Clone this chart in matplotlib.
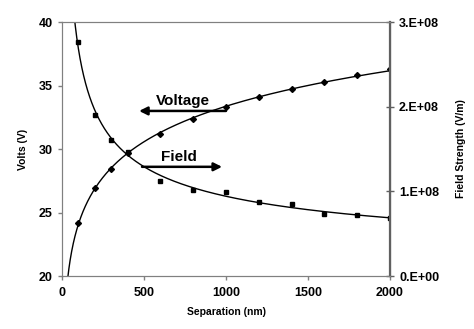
import numpy as np
import matplotlib
matplotlib.use("Agg")
import matplotlib.pyplot as plt

plt.rcParams['font.family'] = ['Liberation Sans', 'DejaVu Sans']
plt.rcParams['font.weight'] = 'bold'

# measured data
separation = [100, 200, 300, 400, 600, 800, 1000, 1200, 1400, 1600, 1800, 2000]  # nm
voltage = [24.2, 26.9, 28.4, 29.7, 31.2, 32.4, 33.3, 34.1, 34.7, 35.3, 35.8, 36.3]  # V
field = [2.77e8, 1.90e8, 1.61e8, 1.47e8, 1.12e8, 1.02e8, 0.99e8, 0.87e8,
         0.85e8, 0.73e8, 0.72e8, 0.69e8]  # V/m

field_ticks = [0, 1e8, 2e8, 3e8]
field_ticklabels = ['0.E+00', '1.E+08', '2.E+08', '3.E+08']

x = np.array(separation, dtype=float)

# trend lines: logarithmic for voltage, power law for field
a, b = np.polyfit(np.log(x), voltage, 1)
p, lc = np.polyfit(np.log(x), np.log(field), 1)
xs = np.linspace(1, 2000, 2000)
v_fit = a * np.log(xs) + b
f_fit = np.exp(lc) * xs ** p

fig = plt.figure(figsize=(4.74, 3.29), dpi=100)
ax = fig.add_axes([0.1308, 0.161, 0.692, 0.772])
ax2 = ax.twinx()

ax.plot(xs, v_fit, color='black', lw=1.0)
ax.plot(x, voltage, 'D', color='black', ms=3.0)
ax2.plot(xs, f_fit, color='black', lw=1.0)
ax2.plot(x, field, 's', color='black', ms=2.2)

ax.set_xlim(0, 2000)
ax.set_ylim(20, 40)
ax2.set_ylim(0, 3e8)
ax.set_xticks([0, 500, 1000, 1500, 2000])
ax.set_yticks([20, 25, 30, 35, 40])
ax2.set_yticks(field_ticks)
ax2.set_yticklabels(field_ticklabels)

for s in ['left', 'top', 'bottom']:
    ax.spines[s].set_color('#808080')
    ax2.spines[s].set_color('#808080')
ax2.spines['right'].set_color('#606060')
ax2.spines['right'].set_linewidth(1.6)

ax.tick_params(axis='both', labelsize=9, color='#808080', length=3, width=1)
ax.tick_params(axis='x', pad=5)
ax2.tick_params(axis='y', labelsize=9, direction='inout', length=6, color='#606060', width=1)

ax.set_xlabel('Separation (nm)', fontsize=7.5, fontweight='bold', labelpad=6)
ax.set_ylabel('Volts (V)', fontsize=7.5, fontweight='bold', labelpad=8)
ax2.set_ylabel('Field Strength (V/m)', fontsize=7.5, fontweight='bold', labelpad=12)

arrow = dict(arrowstyle='-|>', color='black', lw=1.8, mutation_scale=12,
             shrinkA=0, shrinkB=0)
ax.annotate('', xy=(470, 33.0), xytext=(1000, 33.0), arrowprops=arrow)
ax.text(735, 33.8, 'Voltage', fontsize=11, fontweight='bold', ha='center', va='center')
ax.annotate('', xy=(976, 28.6), xytext=(488, 28.6), arrowprops=arrow)
ax.text(710, 29.4, 'Field', fontsize=11, fontweight='bold', ha='center', va='center')

fig.savefig('out.png', dpi=100)
